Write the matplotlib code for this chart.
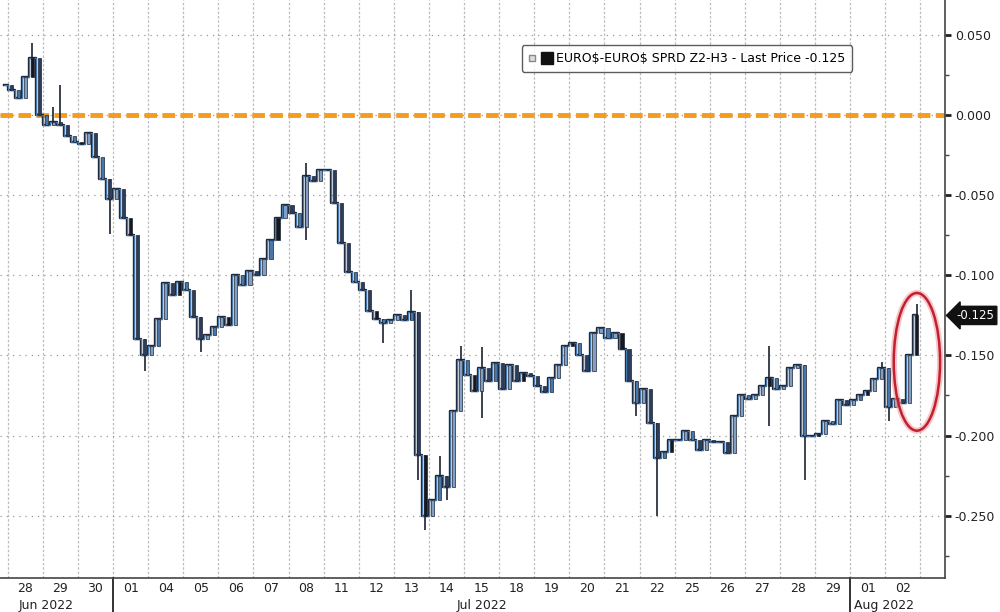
import numpy as np
import matplotlib
matplotlib.use("Agg")
import matplotlib.pyplot as plt
import matplotlib.transforms as mtransforms
from matplotlib.patches import Ellipse
from matplotlib.lines import Line2D
from matplotlib.legend_handler import HandlerTuple

# trading days shown on the axis
day_labels = ["28", "29", "30", "01", "04", "05", "06", "07", "08", "11", "12", "13", "14",
              "15", "18", "19", "20", "21", "22", "25", "26", "27", "28", "29", "01", "02"]
month_labels = ["Jun 2022", "Jul 2022", "Aug 2022"]
month_starts = [3, 24]          # index of first day of Jul / Aug

bars_per_day = 5
prev_close = 0.019              # last value of Jun 27 (left edge)

# intraday closes, 5 bars per day
close_px = [
    0.016, 0.011, 0.024, 0.036, 0.000,        # Jun 28
    -0.006, -0.004, -0.006, -0.013, -0.017,   # Jun 29
    -0.018, -0.011, -0.026, -0.040, -0.052,   # Jun 30
    -0.046, -0.064, -0.075, -0.140, -0.150,   # Jul 01
    -0.144, -0.127, -0.105, -0.112, -0.104,   # 04
    -0.109, -0.126, -0.140, -0.137, -0.132,   # 05
    -0.126, -0.131, -0.100, -0.106, -0.097,   # 06
    -0.100, -0.090, -0.078, -0.064, -0.056,   # 07
    -0.061, -0.070, -0.038, -0.041, -0.034,   # 08
    -0.034, -0.055, -0.080, -0.098, -0.104,   # 11
    -0.109, -0.122, -0.127, -0.130, -0.128,   # 12
    -0.125, -0.128, -0.123, -0.212, -0.250,   # 13
    -0.240, -0.225, -0.232, -0.185, -0.153,   # 14
    -0.162, -0.172, -0.158, -0.166, -0.155,   # 15
    -0.171, -0.156, -0.166, -0.161, -0.163,   # 18
    -0.169, -0.173, -0.164, -0.156, -0.144,   # 19
    -0.142, -0.150, -0.160, -0.136, -0.133,   # 20
    -0.139, -0.136, -0.146, -0.166, -0.180,   # 21
    -0.171, -0.192, -0.214, -0.210, -0.203,   # 22
    -0.203, -0.197, -0.203, -0.209, -0.203,   # 25
    -0.204, -0.204, -0.211, -0.188, -0.175,   # 26
    -0.177, -0.175, -0.169, -0.164, -0.171,   # 27
    -0.169, -0.158, -0.156, -0.200, -0.200,   # 28
    -0.199, -0.191, -0.193, -0.178, -0.181,   # 29
    -0.178, -0.175, -0.172, -0.165, -0.158,   # Aug 01
    -0.182, -0.177, -0.180, -0.150, -0.125,   # 02
]

# intraday spikes beyond open/close: bar index -> value
spike_hi = {3: 0.045, 6: 0.005, 7: 0.019, 42: -0.030, 57: -0.109, 61: -0.213,
            64: -0.144, 67: -0.145, 108: -0.144, 124: -0.154, 129: -0.118}
spike_lo = {14: -0.074, 19: -0.160, 27: -0.148, 42: -0.078, 53: -0.142, 58: -0.228,
            59: -0.259, 62: -0.240, 67: -0.189, 89: -0.188, 92: -0.250, 108: -0.194,
            113: -0.228, 125: -0.191}

last_price = -0.125
y_ticks = [0.05, 0.0, -0.05, -0.1, -0.15, -0.2, -0.25]

fig = plt.figure(figsize=(10, 6.12), dpi=100)
ax = fig.add_axes([0.0, 34 / 612, 0.945, 578 / 612])

n = len(close_px)
xs = (np.arange(n) + 0.5) / bars_per_day
opens = np.array([prev_close] + close_px[:-1])
closes = np.array(close_px)

# connecting step line
sx = np.concatenate([[-0.1], xs])
sy = np.concatenate([[prev_close], closes])
ax.step(sx, sy, where="mid", color="#1a2230", lw=1.7, zorder=3)
ax.step(sx, sy, where="mid", color="#4677ad", lw=0.9, zorder=4)

# bodies and wicks
for i in range(n):
    lo = min(opens[i], closes[i])
    hi = max(opens[i], closes[i])
    up = closes[i] >= opens[i]
    face = "#7f9fc4" if up else "#2a3d5c"
    if i % 4 == 1:
        face = "#4677ad"
    if i % 7 == 3:
        face = "#15191f"
    ax.bar(xs[i], hi - lo, bottom=lo, width=0.09, color=face,
           edgecolor="#1c2433", lw=0.5, zorder=5)
    if i in spike_hi or i in spike_lo:
        ax.vlines(xs[i], spike_lo.get(i, lo), spike_hi.get(i, hi),
                  color="#1b2230", lw=1.2, zorder=4)

# zero reference
ax.axhline(0.0, color="#f39c1f", lw=3.5, dashes=(2.6, 1.1), zorder=2)

# axes limits and ticks
ax.set_xlim(-0.22, 26.7)
ax.set_ylim(-0.289, 0.072)
ax.yaxis.tick_right()
ax.set_yticks(y_ticks)
ax.set_yticklabels([f"{v:.3f}" for v in y_ticks], fontsize=9, color="#222222")
ax.set_yticks(np.arange(-0.275, 0.07, 0.05), minor=True)
ax.tick_params(axis="y", which="major", direction="out", length=4, width=2, pad=3,
               colors="#222222")
ax.tick_params(axis="y", which="minor", direction="out", length=3, width=1,
               colors="#444444")

ax.set_xticks(np.arange(0, 27))
ax.set_xticklabels([])
ax.set_xticks(np.arange(len(day_labels)) + 0.5, minor=True)
ax.set_xticklabels(day_labels, minor=True, fontsize=9, color="#222222")
ax.tick_params(axis="x", which="both", length=0, pad=3)

ax.grid(axis="y", which="major", color="#9a9a9a", lw=0.9, ls=(0, (1, 4)))
ax.grid(axis="x", which="major", color="#bdbdbd", lw=0.9, ls=(0, (2, 1.5)))

for s in ["top", "left"]:
    ax.spines[s].set_visible(False)
ax.spines["right"].set_color("#444444")
ax.spines["bottom"].set_color("#444444")
ax.spines["right"].set_linewidth(1.2)
ax.spines["bottom"].set_linewidth(1.2)

# month separators and labels below the axis
trans = mtransforms.blended_transform_factory(ax.transData, ax.transAxes)
for m in month_starts:
    ax.plot([m, m], [0, -0.07], color="#222222", lw=1.3, transform=trans, clip_on=False)
month_x = [1.1, 13.5, 24.95]
for mx, lab in zip(month_x, month_labels):
    ax.text(mx, -0.036, lab, transform=trans, ha="center", va="top",
            fontsize=9, color="#222222")

# legend
h_small = Line2D([], [], marker="s", ls="none", markersize=4, markerfacecolor="#dddddd",
                 markeredgecolor="#888888")
h_big = Line2D([], [], marker="s", ls="none", markersize=8, color="#111111")
leg = ax.legend([(h_small, h_big)],
                [f"EURO\\$-EURO\\$ SPRD Z2-H3 - Last Price {last_price:.3f}"],
                handler_map={tuple: HandlerTuple(ndivide=None, pad=0.6)},
                loc="upper left", bbox_to_anchor=(0.552, 0.922), fontsize=9,
                frameon=True, fancybox=True, handlelength=1.8, handletextpad=0.4,
                borderpad=0.55, borderaxespad=0)
leg.get_frame().set_edgecolor("#333333")
leg.get_frame().set_linewidth(1.0)

# last price marker on the axis
ytrans = mtransforms.blended_transform_factory(ax.transAxes, ax.transData)
ax.text(1.012, last_price, f"{last_price:.3f}", transform=ytrans, ha="left", va="center",
        fontsize=8.5, color="white",
        bbox=dict(boxstyle="larrow,pad=0.22", fc="#111111", ec="#111111"), clip_on=False)

# red highlight ring
ax.add_patch(Ellipse((25.9, -0.154), 1.32, 0.086, fill=False, ec="#f2a0a8", lw=4.5,
                     alpha=0.6, zorder=6))
ax.add_patch(Ellipse((25.9, -0.154), 1.32, 0.086, fill=False, ec="#c2202e", lw=1.8,
                     zorder=7))

fig.savefig("out.png", dpi=100, facecolor="white")
